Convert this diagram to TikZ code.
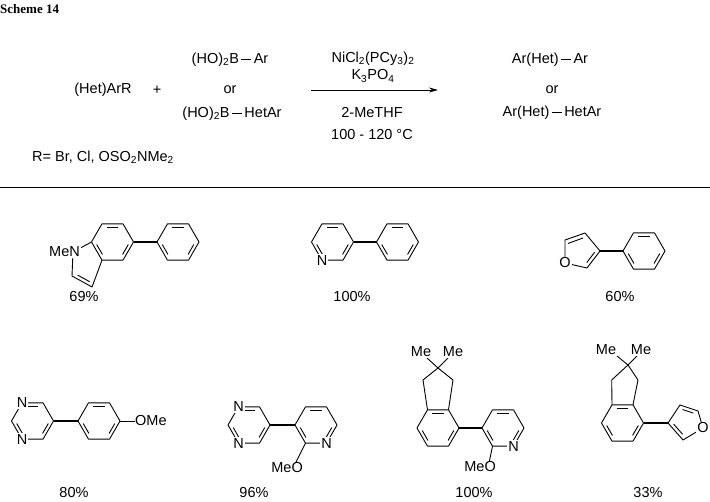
\documentclass[tikz,border=0pt]{standalone}
\usepackage{fontspec}
\setmainfont{Liberation Sans}
\newfontfamily\serifb{Liberation Serif}
\usetikzlibrary{calc,arrows.meta}
\newcommand\sbs[1]{\textsubscript{#1}}
\newcommand\bnd{\,\rule[4pt]{10pt}{0.8pt}\,}
\tikzset{bond/.style={line width=0.9pt,line join=round},
 biaryl/.style={line width=2.4pt},
 txt/.style={font=\fontsize{14.5}{16}\selectfont,inner sep=0pt},
 atom/.style={font=\fontsize{14.5}{16}\selectfont,fill=white,inner sep=1pt}}
\newcommand\hexr[2]{%
 \draw[bond] ($#1+(0:21pt)$) -- ($#1+(60:21pt)$) -- ($#1+(120:21pt)$) -- ($#1+(180:21pt)$) -- ($#1+(240:21pt)$) -- ($#1+(300:21pt)$) -- cycle;
 \foreach \k in {#2}{\draw[bond] ($#1+({60*\k+9}:16pt)$) -- ($#1+({60*\k+51}:16pt)$);}}
\begin{document}
\begin{tikzpicture}[x=1pt,y=-1pt]
\useasboundingbox (0,0) rectangle (710,502);
% header
\node[anchor=west,inner sep=0pt,font=\serifb\bfseries\fontsize{13}{15}\selectfont] (title) at (0,9) {Scheme 14};
\node[txt] (sm) at (103,90) {(Het)ArR};
\node[txt] (plus) at (157,90) {+};
\node[txt] (b1) at (230,60) {(HO)\sbs{2}B\bnd Ar};
\node[txt] (or1) at (230,90) {or};
\node[txt] (b2) at (232,114) {(HO)\sbs{2}B\bnd HetAr};
\node[txt] (c1) at (373,59) {NiCl\sbs{2}(PCy\sbs{3})\sbs{2}};
\node[txt] (c2) at (373,76) {K\sbs{3}PO\sbs{4}};
\coordinate (a1) at (311,90); \coordinate (a2) at (438,90);
\draw[line width=0.8pt,-{Stealth[length=9pt,width=5pt]}] (a1) -- (a2);
\node[txt] (c3) at (372,113) {2-MeTHF};
\node[txt] (c4) at (372,135) {100 - 120 \textdegree C};
\node[txt] (p1) at (550,60) {Ar(Het)\bnd Ar};
\node[txt] (or2) at (552,90) {or};
\node[txt] (p2) at (552,113) {Ar(Het)\bnd HetAr};
\node[txt,anchor=west] (rdef) at (32,157) {R= Br, Cl, OSO\sbs{2}NMe\sbs{2}};
\coordinate (l1) at (0,187); \coordinate (l2) at (710,187);
\draw[line width=0.8pt] (l1) -- (l2);
% ---- row 1: N-methylindole-phenyl
\hexr{(112.5,242)}{1,3,5}
\hexr{(178,242)}{1,3,5}
\draw[biaryl] (133.5,242) -- (157,242);
\draw[bond] (91.5,242) -- (73,252) -- (72,276) -- (92,287) -- (102,260.2);
\draw[bond] (77.7,275.1) -- (89.7,281.7);
\node[atom,anchor=east] (men) at (81,252) {MeN};
\node[txt] (y1) at (84,297) {69\%};
% pyridine-phenyl
\hexr{(332.5,242)}{1,3,5}
\hexr{(397.5,242)}{1,3,5}
\draw[biaryl] (353.5,242) -- (376.5,242);
\node[atom] (n1) at ($(332.5,242)+(240:21pt)$) {N};
\node[txt] (y2) at (352,297) {100\%};
% furan-phenyl
\hexr{(644,251)}{1,3,5}
\draw[biaryl] (600,251) -- (623,251);
\draw[bond] (600,251) -- (585,233) -- (565,240) -- (565,263) -- (587,268) -- cycle;
\draw[bond] (568,243.5) -- (583,238);
\draw[bond] (594.6,252.3) -- (586.8,262.5);
\node[atom] (o1) at (565,263) {O};
\node[txt] (y3) at (620,297) {60\%};
% ---- row 2: pyrimidine-anisole
\hexr{(32.5,421)}{1,3,5}
\hexr{(99,421)}{1,3,5}
\draw[biaryl] (53.5,421) -- (78,421);
\draw[bond] (120,421) -- (136,421);
\node[atom] (n2) at ($(32.5,421)+(120:21pt)$) {N};
\node[atom] (n3) at ($(32.5,421)+(240:21pt)$) {N};
\node[atom,anchor=west,inner sep=0pt] (ome1) at (135,421) {OMe};
\node[txt] (y4) at (74,493) {80\%};
% pyrimidine-methoxypyridine
\hexr{(249,425)}{1,3,5}
\hexr{(316,425)}{1,3,5}
\draw[biaryl] (270,425) -- (295,425);
\draw[bond] ($(316,425)+(240:21pt)$) -- (295,464);
\node[atom] (n4) at ($(249,425)+(120:21pt)$) {N};
\node[atom] (n5) at ($(249,425)+(240:21pt)$) {N};
\node[atom] (n6) at ($(316,425)+(300:21pt)$) {N};
\node[atom,anchor=east,inner sep=0pt] (meo1) at (303,468) {MeO};
\node[txt] (y5) at (254,493) {96\%};
% indane-methoxypyridine
\hexr{(438,428)}{1,3,5}
\hexr{(503,428)}{1,3,5}
\draw[biaryl] (459,428) -- (482,428);
\draw[bond] (427.5,409.8) -- (423,380) -- (438,368) -- (453,380) -- (448.5,409.8);
\draw[bond] (438,368) -- (427,358);
\draw[bond] (438,368) -- (448,358);
\node[atom] (me1) at (421,352) {Me};
\node[atom] (me2) at (453,352) {Me};
\draw[bond] ($(503,428)+(240:21pt)$) -- (489,463);
\node[atom] (n7) at ($(503,428)+(300:21pt)$) {N};
\node[atom,anchor=east,inner sep=0pt] (meo2) at (496,467) {MeO};
\node[txt] (y6) at (474,493) {100\%};
% indane-furan
\hexr{(622.5,423)}{1,3,5}
\draw[bond] (612,404.8) -- (611.7,380) -- (628,365) -- (638,380) -- (633,404.8);
\draw[bond] (628,365) -- (617,356);
\draw[bond] (628,365) -- (637,356);
\node[atom] (me3) at (606,350) {Me};
\node[atom] (me4) at (641,350) {Me};
\draw[biaryl] (643.5,423) -- (668,423);
\draw[bond] (668,423) -- (680,405) -- (698,411) -- (703,428) -- (683,440) -- cycle;
\draw[bond] (682.5,409.5) -- (693.3,413.1);
\draw[bond] (673.6,424.1) -- (682.6,434.3);
\node[atom] (o2) at (703,428) {O};
\node[txt] (y7) at (648,493) {33\%};
\end{tikzpicture}
\end{document}
